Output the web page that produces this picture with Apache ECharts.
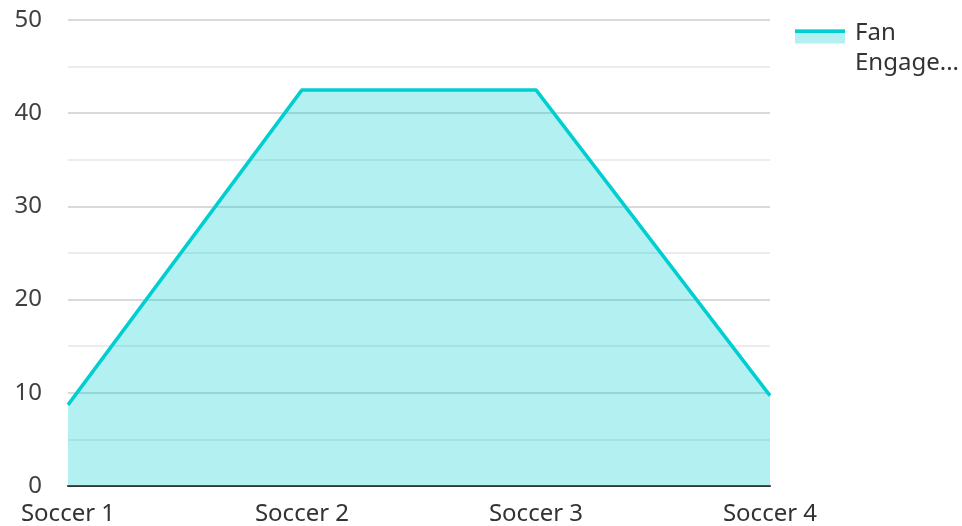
<!DOCTYPE html>
<html><head><meta charset="utf-8">
<script src="https://cdn.jsdelivr.net/npm/echarts@6/dist/echarts.min.js"></script>
<style>html,body{margin:0;padding:0;background:#fff}#c{width:962px;height:526px}</style>
</head><body><div id="c"></div>
<script>
const categories = ['Soccer 1', 'Soccer 2', 'Soccer 3', 'Soccer 4'];
const fanEngagement = [8.7, 42.5, 42.5, 9.7];
const seriesName = 'Fan Engagement';
const yTicks = {min: 0, max: 50, interval: 10};

const chart = echarts.init(document.getElementById('c'));
chart.setOption({
  animation: false,
  textStyle: {fontFamily: 'Noto Sans'},
  grid: {left: 68, right: 192, top: 20, bottom: 39, containLabel: false},
  legend: {
    left: 800, top: 18, padding: 0,
    itemWidth: 50, itemHeight: 14, itemGap: 10,
    icon: 'rect',
    itemStyle: {color: 'rgba(0,0,0,0)', opacity: 0},
    formatter: () => 'Fan\nEngage...',
    textStyle: {fontSize: 24, color: '#333', lineHeight: 30, fontFamily: 'Noto Sans'},
    data: [seriesName]
  },
  graphic: [
    {type: 'rect', shape: {x: 795, y: 29, width: 50, height: 14.5}, style: {fill: '#b2f0f1'}, z: 100},
    {type: 'rect', shape: {x: 795, y: 29.5, width: 50, height: 3.5}, style: {fill: '#00ced1'}, z: 101}
  ],
  xAxis: {
    type: 'category', data: categories, boundaryGap: false,
    axisLine: {lineStyle: {color: '#333', width: 2}},
    axisTick: {show: false},
    axisLabel: {fontSize: 24, color: '#333', margin: 16, fontFamily: 'Noto Sans'},
    splitLine: {show: false}
  },
  yAxis: {
    type: 'value', min: yTicks.min, max: yTicks.max, interval: yTicks.interval,
    axisLine: {show: false}, axisTick: {show: false},
    axisLabel: {fontSize: 24, color: '#404040', margin: 26, fontFamily: 'Noto Sans'},
    splitLine: {lineStyle: {color: '#cccccc', width: 1.5}},
    minorTick: {show: false, splitNumber: 2},
    minorSplitLine: {show: true, lineStyle: {color: '#e6e6e6', width: 1.5}}
  },
  series: [{
    name: seriesName, type: 'line', data: fanEngagement,
    symbol: 'none',
    lineStyle: {color: '#00ced1', width: 3.5},
    itemStyle: {color: '#00ced1'},
    areaStyle: {color: '#00ced1', opacity: 0.3}
  }]
});
</script></body></html>
